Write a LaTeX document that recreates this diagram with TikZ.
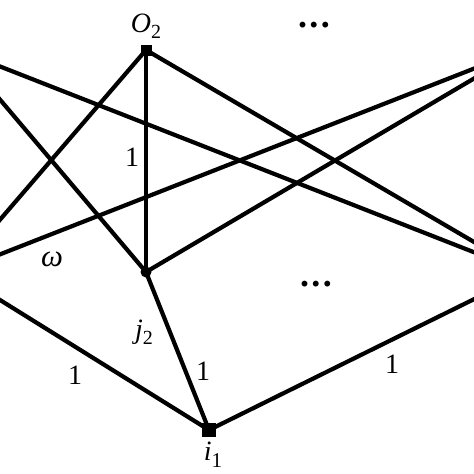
\documentclass[tikz,border=0pt]{standalone}
\usepackage{fontspec}
\setmainfont{Liberation Serif}
\begin{document}
\begin{tikzpicture}[x=1pt,y=-1pt,
  edge/.style={line width=4.2pt},
  sqnode/.style={fill=black,draw=none,rectangle,inner sep=0pt,minimum size=#1},
  dotnode/.style={fill=black,draw=none,circle,inner sep=0pt,minimum size=11pt},
  lab/.style={inner sep=0pt,font=\fontsize{28}{30}\selectfont},
  dots/.style={inner sep=0pt,font=\fontsize{36}{36}\selectfont\bfseries}]
\useasboundingbox (0,0) rectangle (474,474);
\clip (0,0) rectangle (474,474);
% vertex positions
\coordinate (O1) at (-42,50);
\coordinate (O2) at (146,50);
\coordinate (Ok) at (524,49);
\coordinate (j1) at (-45,272);
\coordinate (j2) at (146,272);
\coordinate (jk) at (527,273);
\coordinate (i1) at (209,430);
% edges
\draw[edge] (O1) -- (j2);
\draw[edge] (O1) -- (jk);
\draw[edge] (O2) -- (j1);
\draw[edge] (O2) -- (j2);
\draw[edge] (O2) -- (jk);
\draw[edge] (Ok) -- (j1);
\draw[edge] (Ok) -- (j2);
\draw[edge] (i1) -- (j1);
\draw[edge] (i1) -- (j2);
\draw[edge] (i1) -- (jk);
% vertex markers
\node[sqnode=11pt] (O2m) at (O2) {};
\node[dotnode] (j2m) at (j2) {};
\node[sqnode=14pt] (i1m) at (i1) {};
% labels
\node[lab] (lO2) at (146,26) {\itshape O\raisebox{-6pt}{\fontsize{20}{20}\selectfont\upshape 2}};
\node[lab] (lj2) at (144,332) {\itshape j\raisebox{-6pt}{\fontsize{20}{20}\selectfont\upshape 2}};
\node[lab] (li1) at (213,455) {\itshape i\raisebox{-7pt}{\fontsize{21}{21}\selectfont\upshape 1}};
\node[lab,font=\fontsize{31}{32}\selectfont] (w) at (52,259) {\itshape ω};
\node[lab] (e1) at (132,157) {1};
\node[lab] (e2) at (75,375) {1};
\node[lab] (e3) at (203,371) {1};
\node[lab] (e4) at (392,364) {1};
\node[dots] (d1) at (314,25) {.\kern2.5pt.\kern2.5pt.};
\node[dots] (d2) at (316,284) {.\kern2.5pt.\kern2.5pt.};
\end{tikzpicture}
\end{document}
